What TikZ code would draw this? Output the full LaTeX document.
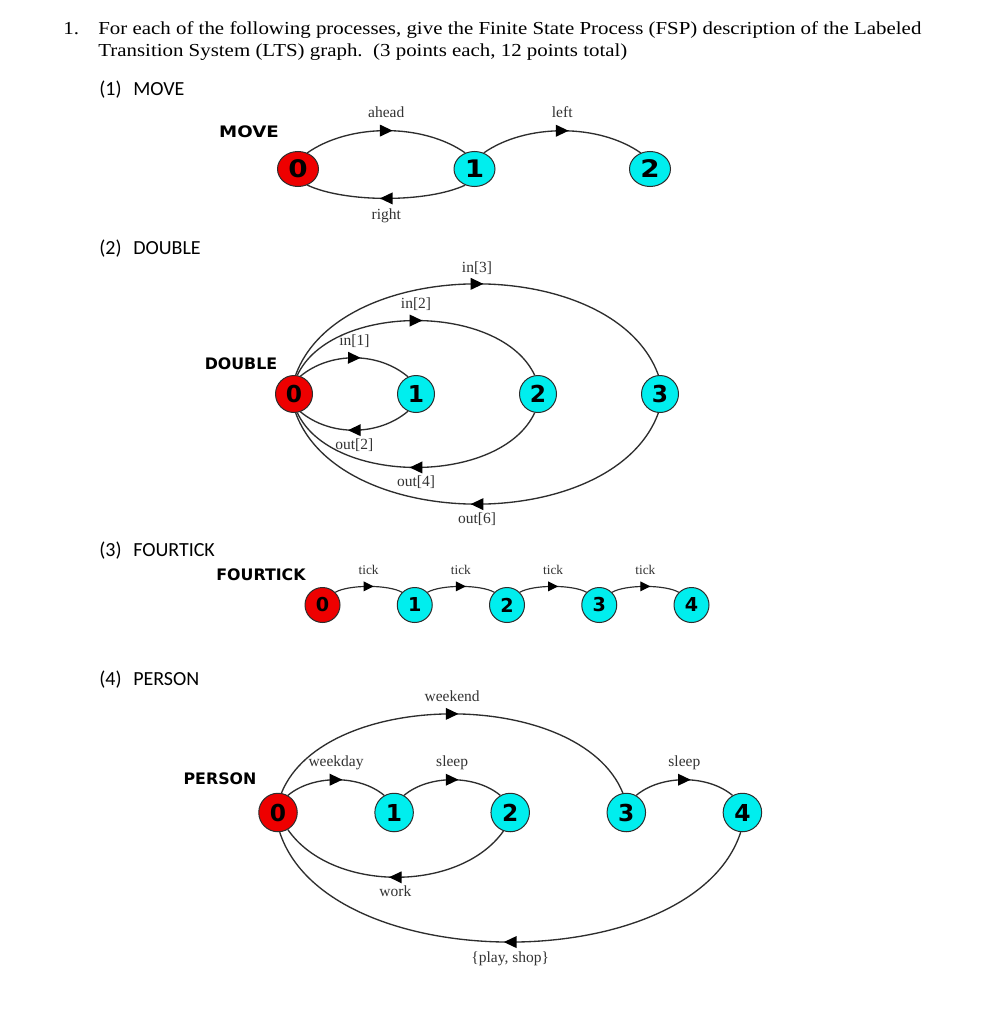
\documentclass[tikz,border=0pt]{standalone}
\usepackage{fontspec}
\setmainfont{Liberation Serif}
\newfontfamily\qfont[FakeStretch=1.14]{Liberation Serif}
\newfontfamily\ltsfont{DejaVu Sans}
\newfontfamily\ltswide[FakeStretch=1.15]{DejaVu Sans}
\newfontfamily\wordfont{Carlito}
\usetikzlibrary{arrows.meta,decorations.markings,shapes.geometric}

\definecolor{ltsred}{RGB}{238,0,0}
\definecolor{ltscyan}{RGB}{0,238,238}
\definecolor{ltsline}{RGB}{45,45,45}

\begin{document}
\begin{tikzpicture}[x=0.6pt, y=-0.6pt,
  every node/.style={inner sep=0pt},
  ltsstate/.style 2 args={ellipse, draw=ltsline, line width=0.6pt, fill=ltscyan, minimum size=#1,
    font=\ltsfont\bfseries\fontsize{#2}{#2}\selectfont},
  ltsinit/.style 2 args={ltsstate={#1}{#2}, fill=ltsred},
  trans/.style={draw=ltsline, line width=0.8pt, postaction={decorate},
    decoration={markings, mark=at position 0.5 with {\arrow[xshift=3.8pt]{Triangle[length=7.6pt,width=7pt,color=black]}}}},
  ticktrans/.style={draw=ltsline, line width=0.7pt, postaction={decorate},
    decoration={markings, mark=at position 0.5 with {\arrow[xshift=3pt]{Triangle[length=6pt,width=5.8pt,color=black]}}}},
  act/.style={font=\fontsize{9.3}{10}\selectfont, text=black!80, text height=6.5pt, text depth=1.9pt},
  procname/.style={font=\ltsfont\bfseries\fontsize{9.5}{11}\selectfont},
  item/.style={anchor=base west, font=\wordfont\fontsize{12}{14}\selectfont},
  para/.style={anchor=base west, font=\qfont\fontsize{11}{13}\selectfont}]
  \path[use as bounding box, fill=white] (0,0) rectangle (1001,1024);

  % question text
  \node[para] (qnum) at (63,34.3) {1.};
  \node[para] (qline1) at (98,34.3) {For each of the following processes, give the Finite State Process (FSP) description of the Labeled};
  \node[para] (qline2) at (98,56.7) {Transition System (LTS) graph.\ \ (3 points each, 12 points total)};

  % (1) MOVE
  \node[item] (part1) at (99,96) {(1)\hspace{7pt}MOVE};
  \node[procname, font=\ltswide\bfseries\fontsize{9.5}{11}\selectfont] (movename) at (249,132) {MOVE};
  \node[ltsinit={21pt}{15}, minimum width=24.6pt, font=\ltswide\bfseries\fontsize{14.5}{15}\selectfont] (m0) at (298,169) {0};
  \node[ltsstate={21pt}{15}, minimum width=24.6pt, font=\ltswide\bfseries\fontsize{14.5}{15}\selectfont] (m1) at (474.5,169) {1};
  \node[ltsstate={21pt}{15}, minimum width=24.6pt, font=\ltswide\bfseries\fontsize{14.5}{15}\selectfont] (m2) at (650,169) {2};
  \draw[trans] (m0.60) to[bend left=35, looseness=0.84] node[act, above=5.4pt] {ahead} (m1.120);
  \draw[trans] (m1.240) to[bend left=25, looseness=0.68] node[act, below=6pt] {right} (m0.300);
  \draw[trans] (m1.60) to[bend left=35, looseness=0.84] node[act, above=5.4pt] {left} (m2.120);

  % (2) DOUBLE
  \node[item] (part2) at (99,254) {(2)\hspace{7pt}DOUBLE};
  \node[procname] (doublename) at (241,364) {DOUBLE};
  \node[ltsinit={22.2pt}{14}] (d0) at (294,394) {0};
  \foreach \i in {1,2,3}
    \node[ltsstate={22.2pt}{14}] (d\i) at ({294+122*\i},394) {\i};
  \draw[trans] (d0.70) to[bend left=40, looseness=0.92] node[act, above=4.8pt] {in[1]} (d1.115);
  \draw[trans] (d1.245) to[bend left=40, looseness=0.92] node[act, below=4.5pt] {out[2]} (d0.290);
  \draw[trans] (d0.80) to[bend left=65, looseness=0.87] node[act, above=4.8pt] {in[2]} (d2.100);
  \draw[trans] (d2.260) to[bend left=65, looseness=0.87] node[act, below=4.5pt] {out[4]} (d0.280);
  \draw[trans] (d0.85) to[bend left=70, looseness=0.915] node[act, above=4.8pt] {in[3]} (d3.95);
  \draw[trans] (d3.265) to[bend left=70, looseness=0.915] node[act, below=4.5pt] {out[6]} (d0.275);

  % (3) FOURTICK
  \node[item] (part3) at (99,556) {(3)\hspace{7pt}FOURTICK};
  \node[procname] (fourtickname) at (261,575) {FOURTICK};
  \node[ltsinit={21pt}{11.5}] (f0) at (322.5,605) {0};
  \foreach \i in {1,...,4}
    \node[ltsstate={21pt}{11.5}] (f\i) at ({322.5+92.25*\i},605) {\i};
  \foreach \i/\j in {0/1,1/2,2/3,3/4}
    \draw[ticktrans] (f\i.45) to[bend left=30, looseness=0.6]
      node[act, above=5pt, font=\fontsize{8}{9}\selectfont] {tick} (f\j.135);

  % (4) PERSON
  \node[item] (part4) at (99,685) {(4)\hspace{7pt}PERSON};
  \node[procname] (personname) at (220,779) {PERSON};
  \node[ltsinit={23.1pt}{14}] (p0) at (278,812.5) {0};
  \foreach \i in {1,...,4}
    \node[ltsstate={23.1pt}{14}] (p\i) at ({278+116.1*\i},812.5) {\i};
  \draw[trans] (p0.60) to[bend left=40, looseness=0.865] node[act, above=5.4pt] {weekday} (p1.120);
  \draw[trans] (p1.60) to[bend left=40, looseness=0.865] node[act, above=5.4pt] {sleep} (p2.120);
  \draw[trans] (p3.60) to[bend left=40, looseness=0.865] node[act, above=5.4pt] {sleep} (p4.120);
  \draw[trans] (p0.80) to[bend left=68, looseness=0.855] node[act, above=5.4pt] {weekend} (p3.100);
  \draw[trans] (p2.250) to[bend left=55, looseness=0.905] node[act, below=4.8pt] {work} (p0.300);
  \draw[trans] (p4.265) to[bend left=72, looseness=0.857] node[act, below=5.4pt] {\{play, shop\}} (p0.275);
\end{tikzpicture}
\end{document}
